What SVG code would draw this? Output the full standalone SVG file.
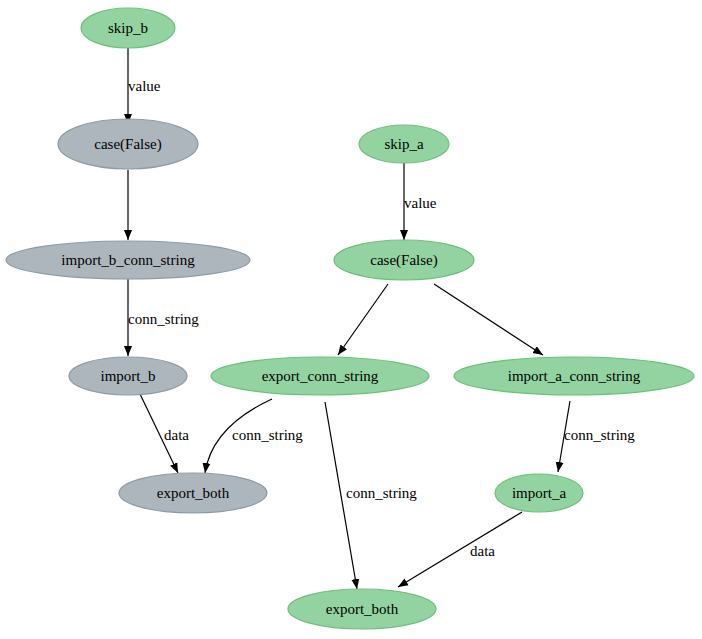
<svg xmlns="http://www.w3.org/2000/svg" width="702" height="639" viewBox="0 0 702 639">
<defs>
<marker id="ah" viewBox="0 0 10 10" refX="10" refY="5" markerWidth="10" markerHeight="10" markerUnits="userSpaceOnUse" orient="auto"><path d="M0,1 L10,5 L0,9 z" fill="#000"/></marker>
<style>
.g{fill:#93d3a2;stroke:#6cc07a;stroke-width:1.2}
.s{fill:#aeb6bd;stroke:#8e9ba5;stroke-width:1.2}
text{font-family:"Liberation Serif",serif;font-size:15px;fill:#000}
.c{text-anchor:middle}
#edges path{fill:none;stroke:#000;stroke-width:1.2;marker-end:url(#ah)}
</style>
</defs>
<rect width="702" height="639" fill="#fff"/>
<g id="edges">
<path d="M128,48 L128,124"/>
<path d="M128,170 L128,240"/>
<path d="M128,278 L128,356"/>
<path d="M140,394 L178,473"/>
<path d="M272,399 C235,416 210,440 205,473"/>
<path d="M325,402 L357,589"/>
<path d="M404,162 L404,240"/>
<path d="M388,284 L338,355"/>
<path d="M434,284 L543,355"/>
<path d="M570,401 L558,472"/>
<path d="M522,512 L398,587"/>
<text x="128" y="91">value</text>
<text x="128" y="324">conn_string</text>
<text x="164" y="440">data</text>
<text x="232" y="440">conn_string</text>
<text x="346" y="498">conn_string</text>
<text x="404" y="208">value</text>
<text x="564" y="440">conn_string</text>
<text x="470" y="556">data</text>
</g>
<g id="skip_b"><ellipse class="g" cx="128" cy="28" rx="47" ry="20"/><text class="c" x="128" y="33">skip_b</text></g>
<g id="case_b"><ellipse class="s" cx="128" cy="144" rx="70" ry="25"/><text class="c" x="128" y="149">case(False)</text></g>
<g id="import_b_conn_string"><ellipse class="s" cx="128" cy="260" rx="122" ry="19"/><text class="c" x="128" y="265">import_b_conn_string</text></g>
<g id="import_b"><ellipse class="s" cx="128" cy="376" rx="59" ry="19"/><text class="c" x="128" y="381">import_b</text></g>
<g id="export_both_b"><ellipse class="s" cx="193" cy="493" rx="74" ry="20"/><text class="c" x="193" y="498">export_both</text></g>
<g id="skip_a"><ellipse class="g" cx="404" cy="144" rx="45" ry="19"/><text class="c" x="404" y="149">skip_a</text></g>
<g id="case_a"><ellipse class="g" cx="404" cy="260" rx="70" ry="20"/><text class="c" x="404" y="265">case(False)</text></g>
<g id="export_conn_string"><ellipse class="g" cx="320" cy="376" rx="109" ry="19"/><text class="c" x="320" y="381">export_conn_string</text></g>
<g id="import_a_conn_string"><ellipse class="g" cx="574" cy="376" rx="120" ry="19"/><text class="c" x="574" y="381">import_a_conn_string</text></g>
<g id="import_a"><ellipse class="g" cx="539" cy="493" rx="44" ry="19"/><text class="c" x="539" y="498">import_a</text></g>
<g id="export_both_a"><ellipse class="g" cx="362" cy="609" rx="74" ry="20"/><text class="c" x="362" y="614">export_both</text></g>
</svg>
